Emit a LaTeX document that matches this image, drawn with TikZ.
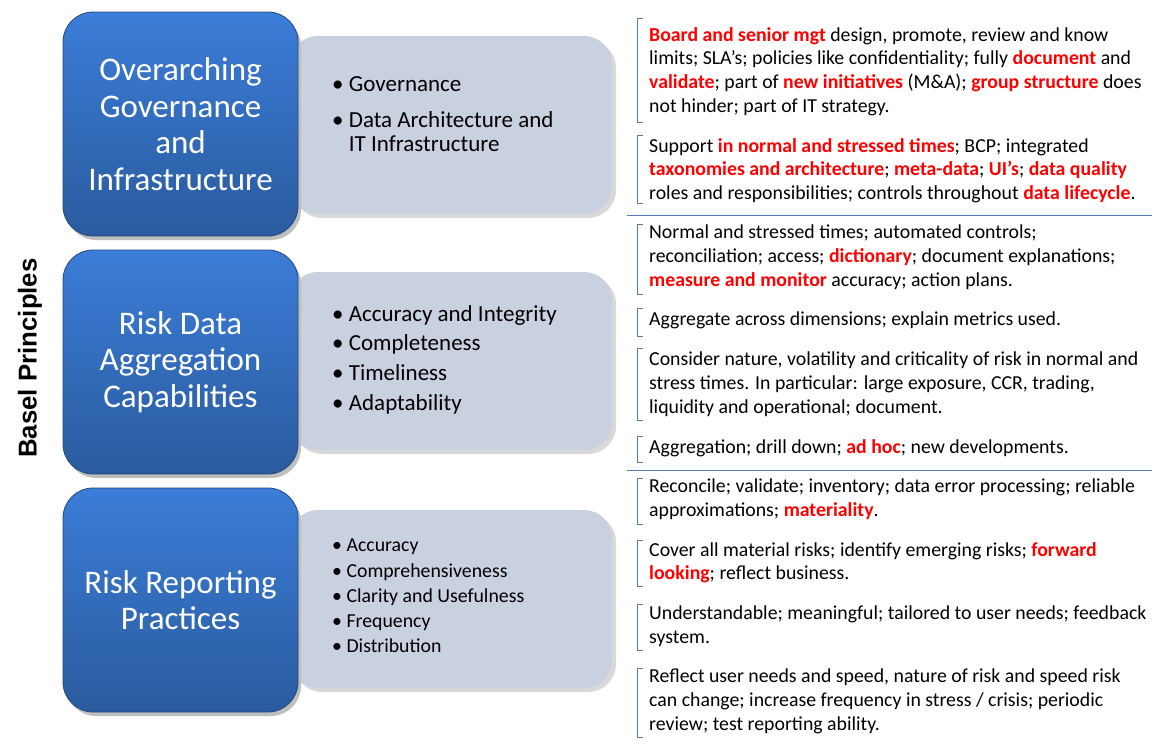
\documentclass[tikz,border=0pt]{standalone}
\usepackage{fontspec}
\setmainfont{Carlito}
\newfontfamily\arialb{Liberation Sans}
\definecolor{rd}{HTML}{FF0000}
\definecolor{gr}{HTML}{C9D0E0}
\definecolor{bt}{HTML}{3B7DD8}
\definecolor{bb}{HTML}{2A5B9E}
\definecolor{ln}{HTML}{4F7AB3}
\newcommand{\R}[1]{\textbf{\textcolor{rd}{#1}}}
\begin{document}
\begin{tikzpicture}[x=1pt,y=-1pt,
 bluebox/.style={rounded corners=30pt,top color=bt,bottom color=bb,draw=bb!80!black,line width=0.8pt},
 graybox/.style={rounded corners=28pt,fill=gr},
 btext/.style={text=white,font=\fontsize{33}{36.5}\selectfont,align=center},
 txt/.style={anchor=north west,inner sep=0pt,align=left,font=\fontsize{19.8}{23.8}\selectfont},
 brk/.style={draw=ln,line width=0.8pt}]
\useasboundingbox (0,0) rectangle (1162,747);
% gray boxes
\foreach \y/\n in {36/g1,272/g2,510/g3}{
 \fill[black!15,rounded corners=28pt] (294,\y+4) rectangle (616,\y+182);
 \path[graybox] (290,\y) rectangle (612,\y+178);}
% blue boxes
\foreach \y in {12,250,488}{
 \fill[black!25,rounded corners=30pt] (66,\y+4) rectangle (301,\y+228);
 \path[bluebox] (63,\y) rectangle (298,\y+224);}
\node[btext] (b1) at (180.5,124) {Overarching\\Governance\\and\\Infrastructure};
\node[btext] (b2) at (180.5,362) {Risk Data\\Aggregation\\Capabilities};
\node[btext] (b3) at (180.5,600) {Risk Reporting\\Practices};
\node[txt,font=\fontsize{23}{24}\selectfont] (l1) at (332,76) {\textbullet\ Governance\\[12pt]\textbullet\ Data Architecture and\\\phantom{\textbullet\ }IT Infrastructure};
\node[txt,font=\fontsize{23}{29.7}\selectfont] (l2) at (332,305) {\textbullet\ Accuracy and Integrity\\\textbullet\ Completeness\\\textbullet\ Timeliness\\\textbullet\ Adaptability};
\node[txt,font=\fontsize{19.8}{25.2}\selectfont] (l3) at (332,539) {\textbullet\ Accuracy\\\textbullet\ Comprehensiveness\\\textbullet\ Clarity and Usefulness\\\textbullet\ Frequency\\\textbullet\ Distribution};
\node[rotate=90,font=\arialb\bfseries\fontsize{25.8}{28}\selectfont] (bp) at (30,358) {Basel Principles};
% separators
\draw[ln,line width=0.8pt] (627,215) -- (1152,215);
\draw[ln,line width=0.8pt] (627,470) -- (1152,470);
% brackets
\foreach \a/\b in {18/122,135/203,224/294,308/336,348/420,436/462,478/524,540/586,604/650,668/737}{
 \draw[brk] (643,\a) -- (637,\a) -- (637,\b) -- (643,\b);}
% texts
\node[txt] (t1) at (649,27) {\R{Board and senior mgt} design, promote, review and know\\limits; SLA’s; policies like confidentiality; fully \R{document} and\\\R{validate}; part of \R{new initiatives} (M\&A); \R{group structure} does\\not hinder; part of IT strategy.};
\node[txt] (t2) at (649,138) {Support \R{in normal and stressed times}; BCP; integrated\\\R{taxonomies and architecture}; \R{meta-data}; \R{UI’s}; \R{data quality}\\roles and responsibilities; controls throughout \R{data lifecycle}.};
\node[txt] (t3) at (649,225) {Normal and stressed times; automated controls;\\reconciliation; access; \R{dictionary}; document explanations;\\\R{measure and monitor} accuracy; action plans.};
\node[txt] (t4) at (649,312) {Aggregate across dimensions; explain metrics used.};
\node[txt] (t5) at (649,352) {Consider nature, volatility and criticality of risk in normal and\\stress times. In particular: large exposure, CCR, trading,\\liquidity and operational; document.};
\node[txt] (t6) at (649,439) {Aggregation; drill down; \R{ad hoc}; new developments.};
\node[txt] (t7) at (649,479) {Reconcile; validate; inventory; data error processing; reliable\\approximations; \R{materiality}.};
\node[txt] (t8) at (649,542) {Cover all material risks; identify emerging risks; \R{forward}\\\R{looking}; reflect business.};
\node[txt] (t9) at (649,606) {Understandable; meaningful; tailored to user needs; feedback\\system.};
\node[txt] (t10) at (649,669) {Reflect user needs and speed, nature of risk and speed risk\\can change; increase frequency in stress / crisis; periodic\\review; test reporting ability.};
\end{tikzpicture}
\end{document}
